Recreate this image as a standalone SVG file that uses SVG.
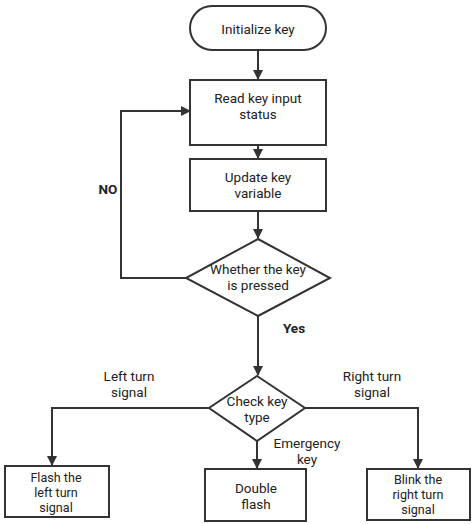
<svg xmlns="http://www.w3.org/2000/svg" width="474" height="524" viewBox="0 0 474 524">
<style>
.s{fill:#fff;stroke:#333;stroke-width:2}
.t{font-family:Roboto,"Liberation Sans",sans-serif;font-size:13.5px;fill:#222;text-anchor:middle}
.m{font-size:12.6px}
.b{font-weight:bold}
.c{fill:none;stroke:#333;stroke-width:2}
</style>
<defs>
<marker id="a" markerWidth="10" markerHeight="10" refX="9" refY="5" orient="auto" markerUnits="userSpaceOnUse">
<path d="M0,0 L10,5 L0,10 Z" fill="#333"/>
</marker>
</defs>
<rect width="474" height="524" fill="#fff"/>
<g id="connectors">
<line class="c" x1="258" y1="50" x2="258" y2="79" marker-end="url(#a)"/>
<line class="c" x1="258" y1="145" x2="258" y2="158" marker-end="url(#a)"/>
<line class="c" x1="258" y1="211" x2="258" y2="238" marker-end="url(#a)"/>
<polyline class="c" points="186,278 121,278 121,111 190,111" marker-end="url(#a)"/>
<line class="c" x1="258" y1="316" x2="258" y2="375" marker-end="url(#a)"/>
<polyline class="c" points="209,408 52,408 52,465" marker-end="url(#a)"/>
<line class="c" x1="257" y1="441" x2="257" y2="468" marker-end="url(#a)"/>
<polyline class="c" points="305,408 418,408 418,468" marker-end="url(#a)"/>
<text class="t b" x="108" y="194">NO</text>
<text class="t b" x="294" y="333">Yes</text>
<text class="t" x="129" y="381">Left turn</text>
<text class="t" x="129" y="397">signal</text>
<text class="t" x="372" y="381">Right turn</text>
<text class="t" x="372" y="397">signal</text>
<text class="t" x="307" y="448">Emergency</text>
<text class="t" x="307" y="464">key</text>
</g>
<g id="start">
<rect class="s" x="190" y="6" width="136" height="44" rx="22"/>
<text class="t" x="258" y="34">Initialize key</text>
</g>
<g id="read">
<rect class="s" x="190" y="80" width="136" height="65"/>
<text class="t" x="258" y="103">Read key input</text>
<text class="t" x="258" y="119">status</text>
</g>
<g id="update">
<rect class="s" x="190" y="159" width="136" height="52"/>
<text class="t" x="258" y="182">Update key</text>
<text class="t" x="258" y="198">variable</text>
</g>
<g id="pressed">
<polygon class="s" points="258,239 330,278 258,316 186,278"/>
<text class="t" x="258" y="274">Whether the key</text>
<text class="t" x="258" y="290">is pressed</text>
</g>
<g id="check">
<polygon class="s" points="257,376 305,408 257,441 209,408"/>
<text class="t" x="257" y="406">Check key</text>
<text class="t" x="257" y="422">type</text>
</g>
<g id="left">
<rect class="s" x="5" y="466" width="104" height="51"/>
<text class="t m" x="56" y="482">Flash the</text>
<text class="t m" x="56" y="497">left turn</text>
<text class="t m" x="56" y="512">signal</text>
</g>
<g id="double">
<rect class="s" x="205" y="469" width="101" height="52"/>
<text class="t" x="256" y="493">Double</text>
<text class="t" x="256" y="509">flash</text>
</g>
<g id="right">
<rect class="s" x="367" y="469" width="103" height="51"/>
<text class="t m" x="418" y="484">Blink the</text>
<text class="t m" x="418" y="499">right turn</text>
<text class="t m" x="418" y="514">signal</text>
</g>
</svg>
